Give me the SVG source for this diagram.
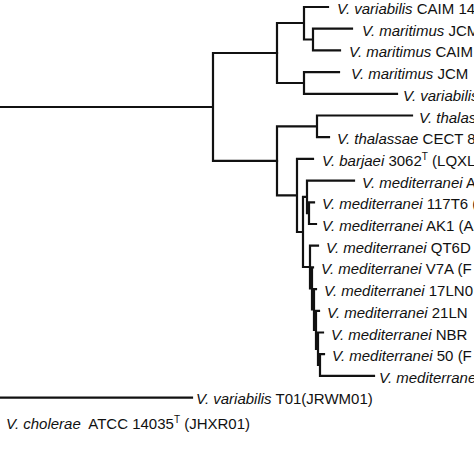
<svg xmlns="http://www.w3.org/2000/svg" width="474" height="474" viewBox="0 0 474 474">
<style>
.br{fill:none;stroke:#111;stroke-width:2.2;stroke-linecap:square}
text{font-family:"Liberation Sans",Arial,sans-serif;font-size:15px;fill:#111}
.i{font-style:italic}
.sup{font-size:10px}
</style>
<rect width="474" height="474" fill="#fff"/>
<g id="connectors">
<path class="br" d="M0,107H213M213,53V160.9M213,53H277M213,160.9H277"/>
<path class="br" d="M277,23V83M277,23H304M277,83H304M304,7V39.5M304,7H328M304,39.5H313M313,28.7V50.4M313,28.7H352M313,50.4H340M304,72.1V93.8M304,72.1H339M304,93.8H397"/>
<path class="br" d="M277,126.4V195.4M277,126.4H317M317,115.5V137.2M317,115.5H412M317,137.2H329M277,195.4H297M297,158.9V232M297,158.9H313M297,232H303M303,196.9V267M303,196.9H307M307,180.6V213.2M307,180.6H354M307,213.2H309M309,202.3V224M309,202.3H314M309,224H316M303,267H310M310,245.7V288.4M310,245.7H318M310,288.4H312M312,267.4V309.4M312,267.4H313M312,309.4H314M314,289.1V329.8M314,289.1H316M314,329.8H316M316,310.8V348.8M316,310.8H319M316,348.8H318M318,332.5V365M318,332.5H323M318,365H320M320,354.2V375.9M320,354.2H324M320,375.9H374"/>
<path class="br" d="M0,397.6H192"/>
</g>
<g id="n0"><text x="337" y="14"><tspan class="i">V. variabilis</tspan> CAIM 14</text></g>
<g id="n1"><text x="362" y="35.7"><tspan class="i">V. maritimus</tspan> JCM</text></g>
<g id="n2"><text x="349" y="57.4"><tspan class="i">V. maritimus</tspan> CAIM</text></g>
<g id="n3"><text x="351" y="79.1"><tspan class="i">V. maritimus</tspan> JCM</text></g>
<g id="n4"><text x="403" y="100.8"><tspan class="i">V. variabilis</tspan></text></g>
<g id="n5"><text x="419" y="122.5"><tspan class="i">V. thalassae</tspan></text></g>
<g id="n6"><text x="337" y="144.2"><tspan class="i">V. thalassae</tspan> CECT 8</text></g>
<g id="n7"><text x="322" y="165.9"><tspan class="i">V. barjaei</tspan> 3062<tspan class="sup" dy="-6">T</tspan><tspan dy="6"> (LQXL01)</tspan></text></g>
<g id="n8"><text x="362" y="187.6"><tspan class="i">V. mediterranei</tspan> AK</text></g>
<g id="n9"><text x="322" y="209.3"><tspan class="i">V. mediterranei</tspan> 117T6 (</text></g>
<g id="n10"><text x="322" y="231"><tspan class="i">V. mediterranei</tspan> AK1 (A</text></g>
<g id="n11"><text x="326" y="252.7"><tspan class="i">V. mediterranei</tspan> QT6D (</text></g>
<g id="n12"><text x="321" y="274.4"><tspan class="i">V. mediterranei</tspan> V7A (F</text></g>
<g id="n13"><text x="324" y="296.1"><tspan class="i">V. mediterranei</tspan> 17LN0</text></g>
<g id="n14"><text x="327" y="317.8"><tspan class="i">V. mediterranei</tspan> 21LN</text></g>
<g id="n15"><text x="331" y="339.5"><tspan class="i">V. mediterranei</tspan> NBR</text></g>
<g id="n16"><text x="332" y="361.2"><tspan class="i">V. mediterranei</tspan> 50 (F</text></g>
<g id="n17"><text x="379" y="382.9"><tspan class="i">V. mediterranei</tspan></text></g>
<g id="n18"><text x="196" y="404"><tspan class="i">V. variabilis</tspan> T01(JRWM01)</text></g>
<g id="n19"><text x="6" y="428.5" xml:space="preserve"><tspan class="i">V. cholerae</tspan>  ATCC 14035<tspan class="sup" dy="-6">T</tspan><tspan dy="6"> (JHXR01)</tspan></text></g>
</svg>
